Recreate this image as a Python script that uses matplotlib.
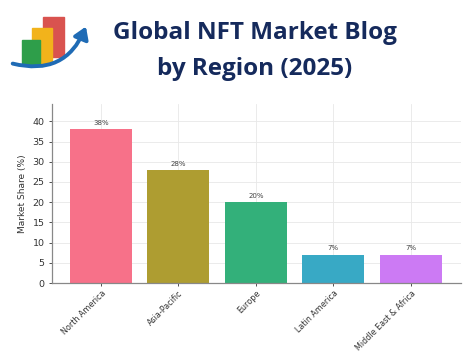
import numpy as np
import matplotlib.pyplot as plt
import seaborn as sns
from matplotlib.patches import Rectangle, FancyArrowPatch

regions = ["North America", "Asia-Pacific", "Europe", "Latin America", "Middle East & Africa"]
share = [38, 28, 20, 7, 7]
yticks = [0, 5, 10, 15, 20, 25, 30, 35, 40]

colors = sns.color_palette("husl", len(regions))

fig = plt.figure(figsize=(4.74, 3.56), dpi=100)

# title
fig.text(0.538, 0.907, "Global NFT Market Blog", ha="center", va="center",
         fontsize=17.5, fontweight="bold", color="#152a5c", family="Open Sans")
fig.text(0.538, 0.805, "by Region (2025)", ha="center", va="center",
         fontsize=17.5, fontweight="bold", color="#152a5c", family="Open Sans")

# logo (pixel coordinates)
lax = fig.add_axes([0.0, 0.77, 0.2, 0.23])
lax.set_xlim(0, 94.8)
lax.set_ylim(82, 0)
lax.axis("off")
lax.add_patch(Rectangle((43, 17), 21, 40, color="#d9534f"))
lax.add_patch(Rectangle((32, 28), 20, 35, color="#f2b31b"))
lax.add_patch(Rectangle((22, 40), 18, 25, color="#2e9e4a"))
lax.add_patch(FancyArrowPatch((10, 63), (87, 24), connectionstyle="arc3,rad=0.45",
                              arrowstyle="-|>,head_length=7,head_width=4.5",
                              color="#1f6bb5", lw=2.8, mutation_scale=1))

ax = fig.add_axes([0.110, 0.205, 0.863, 0.503])
x = np.arange(len(regions))
ax.bar(x, share, width=0.8, color=colors, zorder=2)
for xi, v in zip(x, share):
    ax.text(xi, v + 0.8, f"{v}%", ha="center", va="bottom", fontsize=5, color="#444444")

ax.set_xlim(-0.63, 4.65)
ax.set_ylim(0, 44.3)
ax.set_yticks(yticks)
ax.set_xticks(x)
ax.set_xticklabels(regions, rotation=45, ha="right", rotation_mode="anchor", fontsize=5.8, color="#333333")
ax.tick_params(axis="y", labelsize=6.8, colors="#333333", length=2, width=0.6)
ax.tick_params(axis="x", length=2, width=0.6, colors="#333333", pad=2)
ax.set_ylabel("Market Share (%)", fontsize=6.5, color="#333333")
ax.grid(True, color="#e8e8e8", lw=0.6, zorder=0)
for s in ["top", "right"]:
    ax.spines[s].set_visible(False)
for s in ["left", "bottom"]:
    ax.spines[s].set_color("#888888")
    ax.spines[s].set_linewidth(0.9)

fig.savefig("out.png", dpi=100)
